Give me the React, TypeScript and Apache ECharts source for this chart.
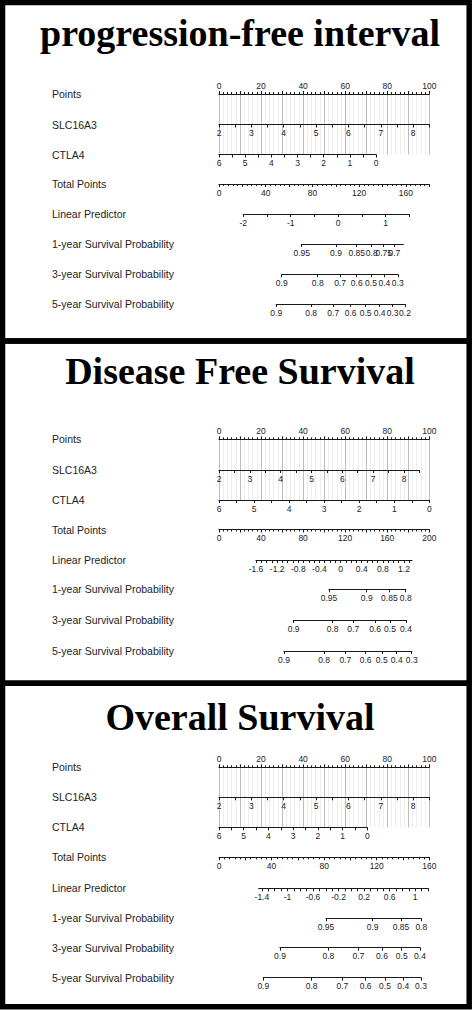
import { useEffect, useRef } from 'react'
import * as echarts from 'echarts'

// panels of the nomogram, top to bottom
const panelTitles = ['progression-free interval', 'Disease Free Survival', 'Overall Survival']
const rowNames = [
  'Points',
  'SLC16A3',
  'CTLA4',
  'Total Points',
  'Linear Predictor',
  '1-year Survival Probability',
  '3-year Survival Probability',
  '5-year Survival Probability'
]

// predictor scales and the points they reach at the far end
const slcRange = [2, 8.5]
const slcMaxPoints = [100, 95.3, 100]
const ctlaRange = [0, 6]
const ctlaMaxPoints = [74.7, 100, 70.5]

const totalPointsMax = [180, 200, 160]

// linear predictor: range, where its ends sit on the total points scale, labels
const lpRange = [
  [-2, 1.5],
  [-1.6, 1.35],
  [-1.45, 1.2]
]
const lpAtTotalPoints = [
  [20.8, 162.9],
  [35.2, 183.5],
  [30.2, 159.0]
]
const lpTickStep = [0.5, 0.1, 0.1]
const lpTickStart = [-2, -1.6, -1.4]
const lpTickEnd = [1.5, 1.3, 1.2]
const lpLabels = [
  [-2, -1, 0, 1],
  [-1.6, -1.2, -0.8, -0.4, 0, 0.4, 0.8, 1.2],
  [-1.4, -1, -0.6, -0.2, 0.2, 0.6, 1]
]

// survival probability ticks, positioned on the total points scale
const surv1Labels = [
  ['0.95', '0.9', '0.85', '0.8', '0.75', '0.7', '0.65'],
  ['0.95', '0.9', '0.85', '0.8'],
  ['0.95', '0.9', '0.85', '0.8']
]
const surv1Points = [
  [70.8, 100.1, 117.9, 130.7, 141.0, 150.1, 157.8],
  [104.6, 140.5, 162.0, 177.6],
  [81.4, 116.9, 138.5, 153.9]
]
const surv3Labels = [
  ['0.9', '0.8', '0.7', '0.6', '0.5', '0.4', '0.3'],
  ['0.9', '0.8', '0.7', '0.6', '0.5', '0.4'],
  ['0.9', '0.8', '0.7', '0.6', '0.5', '0.4']
]
const surv3Points = [
  [53.7, 84.5, 103.6, 117.9, 130.1, 141.5, 153.0],
  [71.0, 108.1, 127.7, 148.4, 162.6, 177.8],
  [46.4, 83.2, 106.0, 124.0, 139.0, 152.9]
]
const surv5Labels = [
  ['0.9', '0.8', '0.7', '0.6', '0.5', '0.4', '0.3', '0.2'],
  ['0.9', '0.8', '0.7', '0.6', '0.5', '0.4', '0.3'],
  ['0.9', '0.8', '0.7', '0.6', '0.5', '0.4', '0.3']
]
const surv5Points = [
  [49.0, 78.9, 97.8, 112.7, 125.5, 137.5, 148.6, 159.2],
  [61.8, 99.9, 120.1, 139.5, 154.8, 169.0, 183.3],
  [33.7, 70.5, 93.8, 111.6, 126.3, 140.2, 153.7]
]

// layout
const W = 474
const H = 1010
const AXIS_LEFT = 219
const AXIS_WIDTH = 210.3
const LABEL_X = 52
const rowY = [
  [94, 124.5, 154.5, 184, 214, 244, 274.3, 304],
  [439.3, 470, 500, 529.5, 560, 589.3, 620, 651],
  [767.3, 797.3, 827.3, 857.3, 888.3, 918.3, 947.7, 977.7]
]
const titleY = [33, 371, 717]
const frameY = [2.5, 341, 683.3, 1006.7]

const LINE = '#1a1a1a'
const TEXT = '#222'
const SANS = '"Liberation Sans", Arial, sans-serif'

const steps = (from: number, to: number, step: number) => {
  const out: number[] = []
  for (let v = from; v <= to + step / 1000; v += step) out.push(Math.round(v * 1000) / 1000)
  return out
}

const nearestLabel = (values: number[], labels: string[], v: number) => {
  let best = 0
  values.forEach((x, i) => {
    if (Math.abs(x - v) < Math.abs(values[best] - v)) best = i
  })
  return labels[best]
}

function buildOption(): echarts.EChartsOption {
  const grids: any[] = []
  const xAxes: any[] = []
  const yAxes: any[] = []

  const addAxis = (left: number, right: number, top: number, height: number, axis: any) => {
    const gridIndex = grids.length
    grids.push({ left, top, width: right - left, height, containLabel: false, outerBoundsMode: 'none' })
    xAxes.push({
      gridIndex,
      type: 'value',
      position: 'bottom',
      splitLine: { show: false },
      ...axis,
      axisLine: { show: true, onZero: false, lineStyle: { color: LINE, width: 1.2 } },
      axisTick: { show: true, length: 3, lineStyle: { color: LINE, width: 1 }, ...(axis.axisTick || {}) },
      axisLabel: {
        fontSize: 8.5,
        fontFamily: SANS,
        color: TEXT,
        margin: 4,
        ...(axis.axisLabel || {})
      }
    })
    yAxes.push({ gridIndex, type: 'value', show: false, min: 0, max: 1 })
  }

  const graphics: any[] = []

  panelTitles.forEach((title, p) => {
    const y = rowY[p]
    const pts = (v: number) => AXIS_LEFT + (v / 100) * AXIS_WIDTH
    const tp = (v: number) => AXIS_LEFT + (v / totalPointsMax[p]) * AXIS_WIDTH

    // Points, with the vertical guide lines running down to CTLA4
    addAxis(pts(0), pts(100), y[0], y[2] - y[0], {
      position: 'top',
      min: 0,
      max: 100,
      interval: 10,
      splitLine: { show: true, lineStyle: { color: '#bdbdbd', width: 1 } },
      minorTick: { show: true, splitNumber: 5, length: 2, lineStyle: { color: LINE } },
      minorSplitLine: { show: true, lineStyle: { color: '#ededed', width: 1 } },
      axisLabel: { formatter: (v: number) => (v % 20 === 0 ? String(v) : '') }
    })

    // SLC16A3
    addAxis(pts(0), pts(slcMaxPoints[p]), y[1] - 1, 1, {
      min: slcRange[0],
      max: slcRange[1],
      interval: 0.5,
      axisLabel: { formatter: (v: number) => (Number.isInteger(v) ? String(v) : '') }
    })

    // CTLA4 (reversed)
    addAxis(pts(0), pts(ctlaMaxPoints[p]), y[2] - 1, 1, {
      min: ctlaRange[0],
      max: ctlaRange[1],
      inverse: true,
      interval: 0.5,
      axisLabel: { formatter: (v: number) => (Number.isInteger(v) ? String(v) : '') }
    })

    // Total Points
    addAxis(tp(0), tp(totalPointsMax[p]), y[3] - 1, 1, {
      min: 0,
      max: totalPointsMax[p],
      interval: 20,
      minorTick: { show: true, splitNumber: 5, length: 2, lineStyle: { color: LINE } },
      axisLabel: { formatter: (v: number) => (v % 40 === 0 ? String(v) : '') }
    })

    // Linear Predictor
    addAxis(tp(lpAtTotalPoints[p][0]), tp(lpAtTotalPoints[p][1]), y[4] - 1, 1, {
      min: lpRange[p][0],
      max: lpRange[p][1],
      axisTick: { customValues: steps(lpTickStart[p], lpTickEnd[p], lpTickStep[p]) },
      axisLabel: {
        customValues: lpLabels[p],
        formatter: (v: number) => String(Math.round(v * 10) / 10)
      }
    })

    // survival probabilities
    const survRows = [
      [surv1Points[p], surv1Labels[p]],
      [surv3Points[p], surv3Labels[p]],
      [surv5Points[p], surv5Labels[p]]
    ] as [number[], string[]][]
    survRows.forEach(([values, labels], k) => {
      addAxis(tp(values[0]), tp(values[values.length - 1]), y[5 + k] - 1, 1, {
        min: values[0],
        max: values[values.length - 1],
        axisTick: { customValues: values },
        axisLabel: {
          customValues: values,
          formatter: (v: number) => nearestLabel(values, labels, v)
        }
      })
    })

    // frame and texts
    graphics.push({
      type: 'rect',
      shape: { x: 2.5, y: frameY[p], width: 466.7, height: frameY[p + 1] - frameY[p] },
      style: { fill: 'none', stroke: '#000', lineWidth: 5.5 },
      z: 10
    })
    graphics.push({
      type: 'text',
      x: 240,
      y: titleY[p],
      style: {
        text: title,
        fontFamily: '"Liberation Serif", "Times New Roman", serif',
        fontWeight: 'bold',
        fontSize: 38,
        fill: '#000',
        align: 'center',
        verticalAlign: 'middle',
        textAlign: 'center',
        textVerticalAlign: 'middle'
      }
    })
    rowNames.forEach((name, r) => {
      graphics.push({
        type: 'text',
        x: LABEL_X,
        y: y[r],
        style: {
          text: name,
          fontFamily: SANS,
          fontSize: 10.5,
          fill: TEXT,
          align: 'left',
          verticalAlign: 'middle',
          textAlign: 'left',
          textVerticalAlign: 'middle'
        }
      })
    })
  })

  return {
    animation: false,
    backgroundColor: '#fff',
    grid: grids,
    xAxis: xAxes,
    yAxis: yAxes,
    graphic: { elements: graphics },
    series: []
  }
}

export default function App() {
  const chartRef = useRef<HTMLDivElement>(null)

  useEffect(() => {
    document.body.style.margin = '0'
    if (!chartRef.current) return
    const chart = echarts.init(chartRef.current, undefined, { renderer: 'svg' })
    chart.setOption(buildOption())
    return () => {
      chart.dispose()
    }
  }, [])

  return (
    <div
      ref={chartRef}
      style={{ position: 'absolute', left: 0, top: 0, width: W + 'px', height: H + 'px', background: '#fff' }}
    />
  )
}
